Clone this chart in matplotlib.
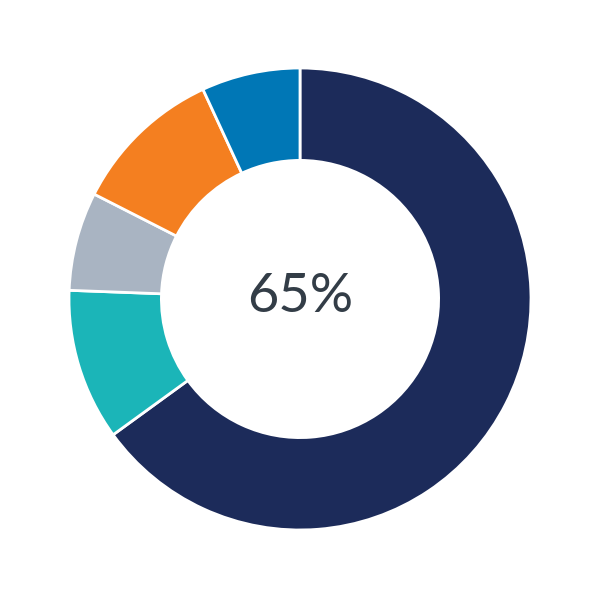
import matplotlib
matplotlib.use('Agg')
import matplotlib.pyplot as plt

# share of each segment, clockwise from the top
labels = ['Main', 'Teal', 'Gray', 'Orange', 'Blue']
values = [65, 10.6, 6.9, 10.6, 6.9]
colors = ['#1c2b5a', '#1bb5b8', '#a9b4c2', '#f47f20', '#0077b6']
center_text = '65%'

fig = plt.figure(figsize=(6, 5.99), dpi=100)
ax = fig.add_axes([0, 0, 1, 1])

ax.pie(values, colors=colors, startangle=90, counterclock=False,
       radius=1, wedgeprops=dict(width=0.4, edgecolor='white', linewidth=2))

ax.text(0, 0.01, center_text, ha='center', va='center', fontsize=39,
        family='Lato', fontweight='normal', color='#333d47')

r = 231
ax.set_xlim(-300 / r, 300 / r)
ax.set_ylim(-300 / r, 299 / r)
ax.set_aspect('equal')
ax.axis('off')

fig.savefig('out.png', dpi=100, facecolor='white')
